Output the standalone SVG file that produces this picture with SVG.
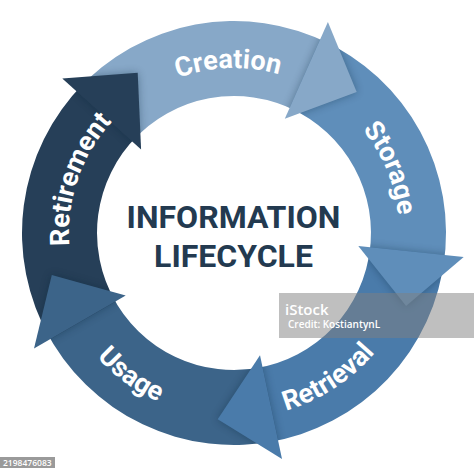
<svg xmlns="http://www.w3.org/2000/svg" width="474" height="474" viewBox="0 0 474 474">
<style>
.lbl{font-family:Roboto,"Liberation Sans",sans-serif;font-weight:700;font-size:27px;fill:#ffffff}
.title{font-family:Roboto,"Liberation Sans",sans-serif;font-weight:700;font-size:32px;fill:#233a50;text-anchor:middle}
.c1{fill:#87a8c8}.c2{fill:#5f8eba}.c3{fill:#4a7baa}.c4{fill:#3c6489}.c5{fill:#263f58}
.wm{font-family:"Open Sans","Liberation Sans",sans-serif;fill:#ffffff}
</style>
<defs>
<clipPath id="ringclip"><path clip-rule="evenodd" d="M234,21 A212,212 0 1 1 233.9,21 Z M234,96 A137,137 0 1 0 234.1,96 Z"/></clipPath>
<filter id="blur" x="-20%" y="-20%" width="140%" height="140%"><feGaussianBlur stdDeviation="4"/></filter>
<path id="pCreation" d="M88.3,155.5 A165,165 0 0 1 373.9,145.6"/>
<path id="pStorage" d="M255.5,69.4 A165,165 0 0 1 364.9,333.5"/>
<path id="pRetirement" d="M109.5,341.3 A165,165 0 0 1 202.5,71.0"/>
<path id="pRetrieval" d="M150.0,397.8 A185,185 0 0 0 418.7,223.3"/>
<path id="pUsage" d="M50.0,213.7 A185,185 0 0 0 309.2,402.0"/>
</defs>
<rect width="474" height="474" fill="#ffffff"/>
<g id="connectors">
<path class="c1" d="M76.5,91.1 A212,212 0 0 1 330.2,44.1 L296.2,110.9 A137,137 0 0 0 132.2,141.3 Z"/>
<path class="c2" d="M320.2,39.3 A212,212 0 0 1 443.4,266.2 L369.3,254.4 A137,137 0 0 0 289.7,107.9 Z"/>
<path class="c3" d="M444.8,255.2 A212,212 0 0 1 267.2,442.4 L255.4,368.3 A137,137 0 0 0 370.2,247.3 Z"/>
<path class="c4" d="M278.1,440.4 A212,212 0 0 1 45.1,329.2 L111.9,295.2 A137,137 0 0 0 262.5,367.0 Z"/>
<path class="c5" d="M50.4,339.0 A212,212 0 0 1 84.1,83.1 L137.1,136.1 A137,137 0 0 0 115.4,301.5 Z"/>
<g clip-path="url(#ringclip)" opacity="0.35">
<g filter="url(#blur)" fill="#0e2236">
<polygon points="62.3,78.4 137.7,72.7 141.1,149.4"/>
<polygon points="327.9,22.0 356.7,91.9 284.8,118.8"/>
<polygon points="463.7,257.1 406.1,306.1 358.3,246.1"/>
<polygon points="282.0,458.9 217.7,419.3 260.0,355.3"/>
<polygon points="34.0,348.5 51.8,275.1 125.7,295.5"/>
</g>
</g>
</g>
<g id="retirement">
<polygon class="c5" points="62.3,78.4 137.7,72.7 141.1,149.4"/>
<text class="lbl"><textPath href="#pRetirement" startOffset="50%" text-anchor="middle">Retirement</textPath></text>
</g>
<g id="creation">
<polygon class="c1" points="327.9,22.0 356.7,91.9 284.8,118.8"/>
<text class="lbl"><textPath href="#pCreation" startOffset="50%" text-anchor="middle">Creation</textPath></text>
</g>
<g id="storage">
<polygon class="c2" points="463.7,257.1 406.1,306.1 358.3,246.1"/>
<text class="lbl"><textPath href="#pStorage" startOffset="50%" text-anchor="middle">Storage</textPath></text>
</g>
<g id="retrieval">
<polygon class="c3" points="282.0,458.9 217.7,419.3 260.0,355.3"/>
<text class="lbl"><textPath href="#pRetrieval" startOffset="50%" text-anchor="middle">Retrieval</textPath></text>
</g>
<g id="usage">
<polygon class="c4" points="34.0,348.5 51.8,275.1 125.7,295.5"/>
<text class="lbl"><textPath href="#pUsage" startOffset="50%" text-anchor="middle">Usage</textPath></text>
</g>
<g id="title">
<text class="title" x="233.5" y="228">INFORMATION</text>
<text class="title" x="233.5" y="267">LIFECYCLE</text>
</g>
<g id="watermark">
<rect x="279" y="293" width="195" height="45" fill="#808080" opacity="0.5"/>
<text class="wm" x="285" y="315" font-size="15" font-weight="600">iStock</text>
<text class="wm" x="288" y="328" font-size="10" font-weight="600">Credit: KostiantynL</text>
<rect x="0" y="457" width="55" height="11" fill="#9a9a9a"/>
<text class="wm" x="3" y="466" font-size="8.5" font-weight="600">2198476083</text>
</g>
</svg>
